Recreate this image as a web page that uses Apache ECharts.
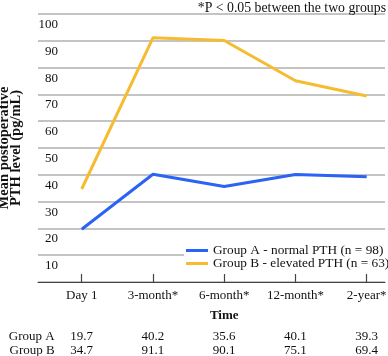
<!DOCTYPE html>
<html>
<head>
<meta charset="utf-8">
<script src="https://cdn.jsdelivr.net/npm/echarts@6/dist/echarts.min.js"></script>
<style>
  html, body { margin: 0; padding: 0; background: #fff; }
  #chart { width: 388px; height: 356px; }
</style>
</head>
<body>
<div id="chart"></div>
<script>
var timePoints = ['Day 1', '3-month*', '6-month*', '12-month*', '2-year*'];
var groupA = [19.7, 40.2, 35.6, 40.1, 39.3];
var groupB = [34.7, 91.1, 90.1, 75.1, 69.4];
var legendNames = ['Group A - normal PTH (n = 98)', 'Group B - elevated PTH (n = 63)'];
var rowNames = ['Group A', 'Group B'];

var serif = '"Liberation Serif", "DejaVu Serif", serif';
var ink = '#111';

var myChart = echarts.init(document.getElementById('chart'));

// one row of the table under the axis, drawn as an extra category axis
function tableRow(name, values, offset) {
    return {
        type: 'category',
        gridIndex: 1,
        position: 'bottom',
        offset: offset,
        boundaryGap: false,
        data: values.map(function (v) { return v.toFixed(1); }),
        axisLine: { show: false },
        axisTick: { show: false },
        axisLabel: {
            interval: 0,
            margin: 0,
            verticalAlign: 'middle',
            color: ink,
            fontFamily: serif,
            fontSize: 13
        },
        name: name,
        nameLocation: 'start',
        nameGap: 27,
        nameTextStyle: { color: ink, fontFamily: serif, fontSize: 13 }
    };
}

var option = {
    animation: false,
    title: {
        text: '*P < 0.05 between the two groups',
        right: 2,
        top: 1,
        padding: 0,
        textStyle: { color: ink, fontFamily: serif, fontSize: 13.8, fontWeight: 'normal' }
    },
    legend: {
        orient: 'vertical',
        left: 184,
        top: 242,
        padding: [2, 0, 2, 2],
        itemGap: 0,
        itemWidth: 22,
        itemHeight: 3,
        icon: 'rect',
        backgroundColor: '#fff',
        data: legendNames,
        textStyle: { color: ink, fontFamily: serif, fontSize: 13.3, lineHeight: 13 }
    },
    grid: [
        { left: 38, right: 3, top: 14, bottom: 74, outerBoundsMode: 'none' },
        { left: 81.7, right: 21.3, top: 14, bottom: 74, outerBoundsMode: 'none' }
    ],
    xAxis: [
        {
            type: 'value',
            gridIndex: 0,
            min: 0,
            max: 1,
            axisLine: { show: true, lineStyle: { color: '#444', width: 1.2 } },
            axisTick: { show: false },
            axisLabel: { show: false },
            splitLine: { show: false }
        },
        {
            type: 'category',
            gridIndex: 1,
            data: timePoints,
            boundaryGap: false,
            axisLine: { show: false },
            axisTick: { show: true, inside: true, length: 8, lineStyle: { color: '#444', width: 1.2 } },
            axisLabel: { interval: 0, margin: 7, color: ink, fontFamily: serif, fontSize: 13 },
            name: 'Time',
            nameLocation: 'middle',
            nameGap: 27,
            nameTextStyle: { color: ink, fontFamily: serif, fontSize: 13, fontWeight: 'bold' }
        },
        tableRow(rowNames[0], groupA, 55),
        tableRow(rowNames[1], groupB, 69)
    ],
    yAxis: [
        {
            type: 'value',
            gridIndex: 0,
            min: 0,
            max: 100,
            interval: 10,
            offset: -20,
            axisLine: { show: false },
            axisTick: { show: false },
            splitLine: { show: true, lineStyle: { color: '#B0B0B0', width: 1.5 } },
            axisLabel: {
                showMinLabel: false,
                margin: 0,
                align: 'right',
                verticalAlign: 'top',
                padding: [4, 0, 0, 0],
                color: ink,
                fontFamily: serif,
                fontSize: 13
            },
            name: 'Mean postoperative\nPTH level (pg/mL)',
            nameLocation: 'middle',
            nameGap: 36,
            nameMoveOverlap: false,
            nameTextStyle: { color: ink, fontFamily: serif, fontSize: 14.5, fontWeight: 'bold', lineHeight: 12 }
        },
        { type: 'value', gridIndex: 1, min: 0, max: 100, show: false }
    ],
    series: [
        {
            name: legendNames[0],
            type: 'line',
            xAxisIndex: 1,
            yAxisIndex: 1,
            data: groupA,
            symbol: 'none',
            color: '#2A63F5',
            lineStyle: { width: 3 }
        },
        {
            name: legendNames[1],
            type: 'line',
            xAxisIndex: 1,
            yAxisIndex: 1,
            data: groupB,
            symbol: 'none',
            color: '#F5BC32',
            lineStyle: { width: 3 }
        }
    ]
};

myChart.setOption(option);
</script>
</body>
</html>
